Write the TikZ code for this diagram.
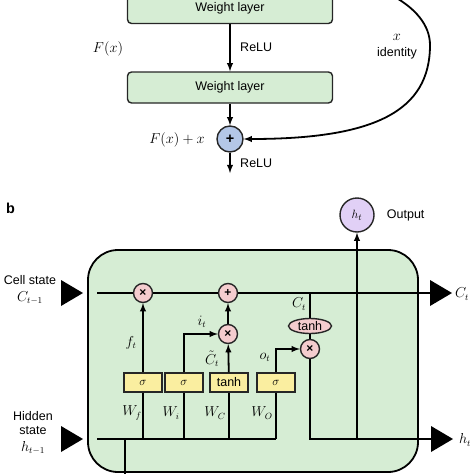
\documentclass[tikz,border=0pt]{standalone}
\usepackage{amsmath, amssymb}
\usepackage{fontspec}
\setmainfont{Liberation Sans}
\usepackage{tikz}
\usetikzlibrary{arrows}
\usetikzlibrary{shapes.geometric}
\usetikzlibrary{positioning}

\definecolor{cellgreen}{HTML}{D6EDD4}
\definecolor{plusblue}{HTML}{B4C7E7}
\definecolor{oppink}{HTML}{F4CCCE}
\definecolor{gateyellow}{HTML}{FAEEA0}
\definecolor{outpurple}{HTML}{E1D0F6}

\begin{document}
\begin{tikzpicture}[x=1pt, y=-1pt, >=latex, line width=1.8pt,
        font=\fontsize{12.5}{15}\selectfont,
        lbl/.style={inner sep=1pt, font=\fontsize{13.5}{15}\selectfont},
        layer/.style={draw=black!85, fill=cellgreen, rounded corners=4pt, minimum width=205pt, minimum height=31pt, line width=1.4pt},
        gate/.style={draw=black!85, fill=gateyellow, minimum width=38pt, minimum height=19pt, inner sep=0pt, line width=1.4pt},
        op/.style={circle, draw=black!85, fill=oppink, minimum size=19pt, inner sep=0pt, line width=1.4pt, font=\bfseries\large}]
        \useasboundingbox (0,0) rectangle (474,474);

        % residual block
        \node[layer] (wl1) at (230,8) {Weight layer};
        \node[layer] (wl2) at (230,87.5) {Weight layer};
        \node[circle, draw=black!85, fill=plusblue, minimum size=26pt, inner sep=0pt, line width=1.4pt, font=\bfseries\Large] (sum) at (230,139) {+};
        \coordinate (res) at (230,173);
        \coordinate (idin) at (393,-4);
        \node[lbl] at (108,49) {$F(x)$};
        \node[lbl] at (177,140) {$F(x)+x$};
        \node[lbl] at (397,37) {$x$};
        \node at (397,53) {identity};

        \draw[->] (wl1) -- node[right=6pt] {ReLU} (wl2);
        \draw[->] (wl2) -- (sum);
        \draw[->] (sum) -- node[right=6pt] {ReLU} (res);
        \draw[->] (idin) .. controls (415,8) and (430,25) .. (430,45)
                  .. controls (430,111) and (375,139) .. (sum);

        % LSTM cell
        \node[font=\bfseries\Large] at (10.5,208) {b};
        \node[draw, fill=cellgreen, rounded corners=30pt, minimum width=330pt, minimum height=222pt] (cell) at (253,361) {};
        \node[circle, draw=black!85, fill=outpurple, minimum size=34pt, inner sep=0pt, line width=1.4pt] (ht) at (357,215) {$h_t$};
        \node[right=8pt of ht] {Output};

        % input and output pointers
        \coordinate (cin) at (61,293);
        \coordinate (cout) at (430,293);
        \coordinate (hin) at (61,439);
        \coordinate (hout) at (431,439);
        \fill (cin) ++(0,-13) -- ++(22,13) -- ++(-22,13) -- cycle;
        \fill (cout) ++(0,-13) -- ++(22,13) -- ++(-22,13) -- cycle;
        \fill (hin) ++(0,-13) -- ++(22,13) -- ++(-22,13) -- cycle;
        \fill (hout) ++(0,-13) -- ++(22,13) -- ++(-22,13) -- cycle;
        \node at (30,280) {Cell state};
        \node[lbl] at (30,298) {$C_{t-1}$};
        \node at (33,416) {Hidden};
        \node at (33,431) {state};
        \node[lbl] at (33,448) {$h_{t-1}$};
        \node[lbl] at (462,294) {$C_t$};
        \node[lbl] at (465,440) {$h_t$};

        \node[op] (xf) at (143,293) {×};
        \node[op] (add) at (228,293) {+};
        \node[op] (xi) at (228,334) {×};
        \node[op] (xo) at (310,349) {×};
        \node[ellipse, draw=black!85, fill=oppink, minimum width=43pt, minimum height=15pt, inner sep=0pt, line width=1.4pt] (th) at (310,326) {tanh};

        \node[gate] (sgf) at (143,382.5) {$\sigma$};
        \node[gate] (sgi) at (184,382.5) {$\sigma$};
        \node[gate] (thc) at (229,382.5) {tanh};
        \node[gate] (sgo) at (276,382.5) {$\sigma$};

        \coordinate (c0) at (97,293);
        \coordinate (cj) at (310,293);
        \coordinate (h0) at (97,439);
        \coordinate (hx) at (125,439);
        \coordinate (hbot) at (125,480);

        \draw (c0) -- (xf) -- (add) -- (cout);
        \draw (h0) -- (sgo |- h0);
        \draw (hx) -- (hbot);
        \draw (sgf) -- (sgf |- h0);
        \draw (sgi) -- (sgi |- h0);
        \draw (thc) -- (thc |- h0);
        \draw (sgo) -- (sgo |- h0);
        \draw[->] (sgf) -- (xf);
        \draw[->] (sgi) |- (xi);
        \draw[->] (thc) -- (xi);
        \draw[->] (xi) -- (add);
        \draw[->] (sgo) |- (xo);
        \draw (cj) -- (th) -- (xo);
        \draw (xo) |- (hout);
        \draw[->] (ht |- hout) -- (ht);

        \node[lbl] at (131,343) {$f_t$};
        \node[lbl] at (202,322) {$i_t$};
        \node[lbl] at (212,359) {$\tilde{C}_t$};
        \node[lbl] at (265,357) {$o_t$};
        \node[lbl] at (299,304) {$C_t$};
        \node[lbl] at (132,413) {$W_f$};
        \node[lbl] at (171,413) {$W_i$};
        \node[lbl] at (215,413) {$W_C$};
        \node[lbl] at (262,413) {$W_O$};
    \end{tikzpicture}
\end{document}
